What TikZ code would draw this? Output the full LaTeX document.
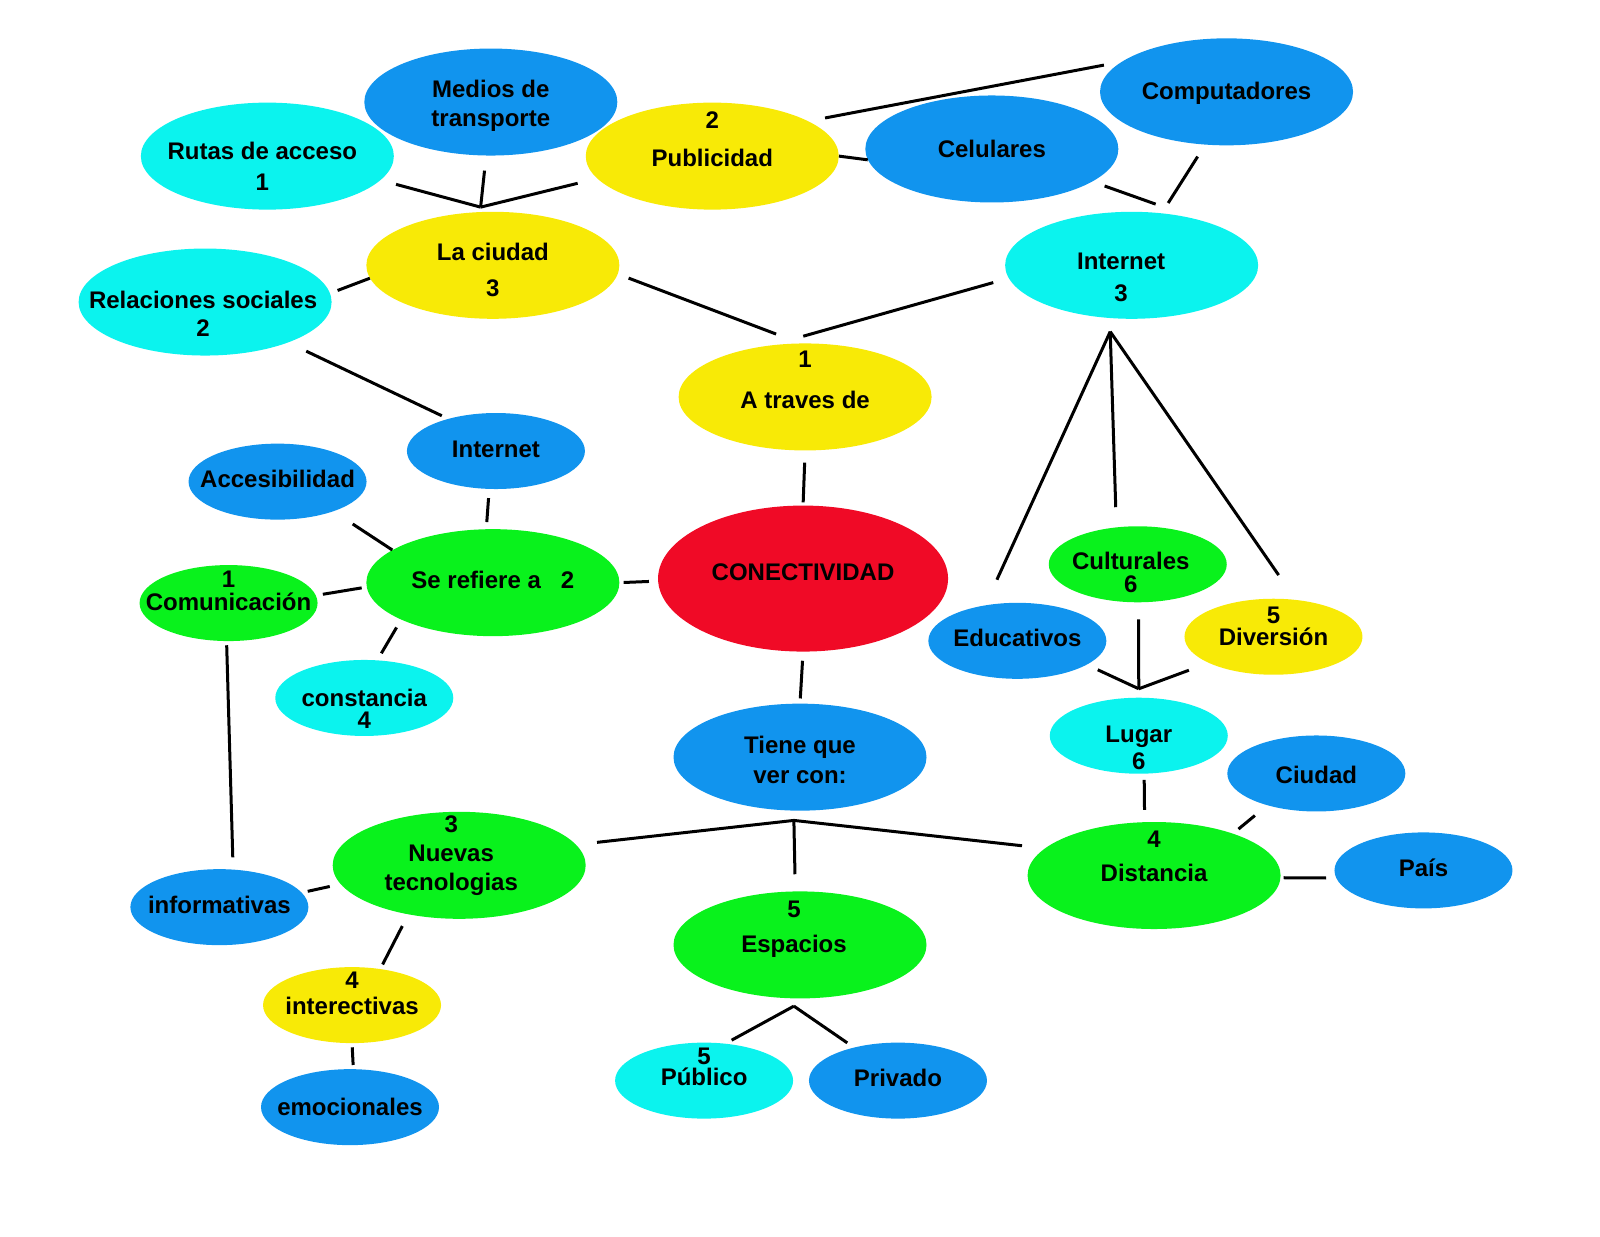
\documentclass[tikz,border=0pt]{standalone}
\usepackage{fontspec}
\setmainfont{Liberation Sans}
\usepackage{xcolor}
\usepackage{tikz}
\usetikzlibrary{shapes.geometric}

\definecolor{azul}{RGB}{17,148,238}
\definecolor{celeste}{RGB}{11,243,238}
\definecolor{amarillo}{RGB}{248,234,6}
\definecolor{verde}{RGB}{9,242,28}
\definecolor{rojo}{RGB}{240,10,38}

\begin{document}
\begin{tikzpicture}[x=1.0204pt, y=-1.0204pt,
  every label/.style={align=center, font=\bfseries\fontsize{24}{26.5}\selectfont},
  idea/.style={ellipse, inner sep=0pt, minimum width=253pt, minimum height=107pt},
  hoja/.style={ellipse, inner sep=0pt, minimum width=178pt, minimum height=76pt},
  link/.style={line width=3pt}]
  \useasboundingbox (0,0) rectangle (1568,1211.3);

  % upper part
  \node[idea, fill=azul,     label={[yshift=-3.6pt]center:{Medios de\\[2pt]transporte}}]          (medios)  at (481,100)  {};
  \node[idea, fill=celeste,  label={[xshift=-5pt,yshift=-10pt]center:{Rutas de acceso\\[4pt]1}}]   (rutas)   at (262,153)  {};
  \node[idea, fill=amarillo, label={[yshift=17pt]center:{2\\[12pt]Publicidad}}]                    (publi)   at (698,153)  {};
  \node[idea, fill=azul,     label={center:{Celulares}}]                                          (cel)     at (972,146)  {};
  \node[idea, fill=azul,     label={[yshift=-1pt]center:{Computadores}}]                          (comp)    at (1202,90)  {};
  \node[idea, fill=amarillo, label={[yshift=-4.6pt]center:{La ciudad\\[9pt]3}}]                   (ciudad)  at (483,260)  {};
  \node[idea, fill=celeste,  label={[xshift=-2pt,yshift=-11.7pt]center:{Relaciones sociales\\[1pt]2}}] (relac) at (201,296) {};
  \node[idea, fill=celeste,  label={[xshift=-10.5pt,yshift=-12.2pt]center:{Internet\\[6pt]3}}]     (inter3)  at (1109,260) {};
  \node[idea, fill=amarillo, label={[yshift=17.3pt]center:{1\\[14pt]A traves de}}]                 (traves)  at (789,389)  {};

  % middle part
  \node[hoja, fill=azul,     label={[yshift=2pt]center:{Internet}}]                               (interL)  at (486,442)  {};
  \node[hoja, fill=azul,     label={[yshift=2.5pt]center:{Accesibilidad}}]                        (acces)   at (272,472)  {};
  \node[idea, fill=verde,    label={[yshift=3pt]center:{Se refiere a~~~2}}]                       (seref)   at (483,571)  {};
  \node[ellipse, inner sep=0pt, minimum width=290pt, minimum height=146pt, fill=rojo,
        label={[yshift=6pt]center:{CONECTIVIDAD}}]                                              (conect)  at (787,567)  {};
  \node[hoja, fill=verde,    label={[yshift=12pt]center:{1\\[-4pt]Comunicación}}]                 (comun)   at (224,591)  {};
  \node[hoja, fill=celeste,  label={[yshift=-11pt]center:{constancia\\[-4.5pt]4}}]                (const)   at (357,684)  {};
  \node[idea, fill=azul,     label={[yshift=-2.6pt]center:{Tiene que\\[3pt]ver con:}}]            (tiene)   at (784,742)  {};
  \node[hoja, fill=azul,     label={[yshift=2.5pt]center:{Educativos}}]                           (educ)    at (997,628)  {};
  \node[hoja, fill=verde,    label={[xshift=-7pt,yshift=-8pt]center:{Culturales\\[-3pt]6}}]       (cult)    at (1115,553) {};
  \node[hoja, fill=amarillo, label={[yshift=10.5pt]center:{5\\[-5pt]Diversión}}]                  (divers)  at (1248,624) {};
  \node[hoja, fill=celeste,  label={[yshift=-12pt]center:{Lugar\\6}}]                            (lugar)   at (1116,721) {};
  \node[hoja, fill=azul,     label={[yshift=-1.5pt]center:{Ciudad}}]                              (ciudad2) at (1290,758) {};

  % lower part
  \node[idea, fill=verde,    label={[yshift=19.2pt]center:{4\\[7pt]Distancia}}]                   (dist)    at (1131,858) {};
  \node[hoja, fill=azul,     label={[yshift=2.5pt]center:{País}}]                                 (pais)    at (1395,853) {};
  \node[idea, fill=verde,    label={[xshift=-8pt,yshift=9.2pt]center:{3\\[2.5pt]Nuevas\\[2.5pt]tecnologias}}] (nuevas) at (450,848) {};
  \node[hoja, fill=azul,     label={[yshift=2pt]center:{informativas}}]                           (inform)  at (215,889)  {};
  \node[idea, fill=verde,    label={[xshift=-6pt,yshift=15.2pt]center:{5\\[8.5pt]Espacios}}]      (espac)   at (784,926)  {};
  \node[hoja, fill=amarillo, label={[yshift=12pt]center:{4\\interectivas}}]                       (interec) at (345,985)  {};
  \node[hoja, fill=azul,     label={center:{emocionales}}]                                        (emoc)    at (343,1085) {};
  \node[hoja, fill=celeste,  label={[yshift=13.3pt]center:{5\\[-5.5pt]Público}}]                  (publico) at (690,1059) {};
  \node[hoja, fill=azul,     label={[yshift=3pt]center:{Privado}}]                                (privado) at (880,1059) {};

  % meeting points of the lines
  \coordinate (jc) at (471,203);
  \coordinate (jt) at (778,804);
  \coordinate (je) at (778,986);
  \coordinate (ji) at (1088,325);
  \coordinate (jl) at (1116,675);

  \path[link]
  (rutas.-12.5)    edge[shorten <=16pt]                  (jc)
  (medios.-95)     edge[shorten <=15pt]                  (jc)
  (publi.191)      edge[shorten <=20pt]                  (jc)
  (relac.4)        edge[shorten <=8pt]                   (ciudad.-174)
  (ciudad.-4.2)    edge[shorten <=11.5pt, shorten >=26pt] (traves.95)
  (inter3.-174.5)  edge[shorten <=16pt, shorten >=33pt]  (traves.123.5)
  (publi.0)        edge                                  (cel.-175)
  (publi.20)       edge[shorten <=17pt, shorten >=18pt]  (comp.164)
  (cel.-18.7)      edge[shorten <=13pt, shorten >=50pt]  (inter3.32.3)
  (comp.-112)      edge[shorten <=14pt, shorten >=12pt]  (inter3.60)
  (relac.-26.6)    edge[shorten <=20pt, shorten >=7pt]   (interL.146.6)
  (traves.south)   edge[shorten <=12pt, shorten >=3pt]   (conect.north)
  (interL.-100)    edge[shorten <=9pt, shorten >=7pt]    (seref.97)
  (acces.-28.7)    edge[shorten <=23pt]                  (seref.162)
  (comun.5)        edge[shorten <=7pt, shorten >=5pt]    (seref.-178)
  (const.71)       edge[shorten <=8pt, shorten >=9pt]    (seref.-158)
  (seref.east)     edge[shorten <=4pt, shorten >=9pt]    (conect.-179)
  (conect.south)   edge[shorten <=9pt, shorten >=5pt]    (tiene.north)
  (comun.-93)      edge[shorten <=4pt, shorten >=12pt]   (inform.70.5)
  (jt)             edge[shorten >=21pt]                  (nuevas.10)
  (jt)             edge[shorten >=17pt]                  (espac.95)
  (jt)             edge[shorten >=23pt]                  (dist.166)
  (inform.10.5)    edge[shorten <=6pt, shorten >=11pt]   (nuevas.-171.5)
  (nuevas.-136.5)  edge[shorten <=13pt, shorten >=5pt]   (interec.52.4)
  (interec.south)  edge[shorten <=4pt, shorten >=4pt]    (emoc.85)
  (je)             edge[shorten >=7pt]                   (publico.60)
  (je)             edge[shorten >=8pt]                   (privado.143.5)
  (ji)             edge[shorten >=28pt]                  (educ.132.5)
  (ji)             edge[shorten >=20pt]                  (cult.120.7)
  (ji)             edge[shorten >=30pt]                  (divers.59.3)
  (cult.-89)       edge[shorten <=17pt]                  (jl)
  (educ.-19.7)     edge[shorten <=12pt]                  (jl)
  (divers.-158.3)  edge[shorten <=21pt]                  (jl)
  (lugar.-82)      edge[shorten <=6pt, shorten >=12pt]   (dist.100)
  (ciudad2.-147.8) edge[shorten <=16pt, shorten >=7pt]   (dist.28.8)
  (dist.-1.4)      edge[shorten <=3pt, shorten >=10pt]   (pais.-175.2);
\end{tikzpicture}
\end{document}
